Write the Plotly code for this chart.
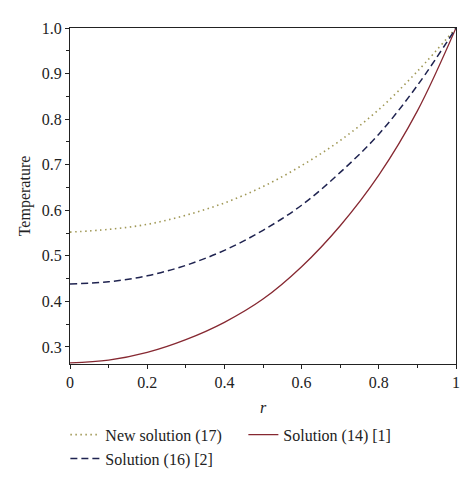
import plotly.graph_objects as go

# radius values and temperature profiles
r_vals = [0.0, 0.1, 0.2, 0.3, 0.4, 0.5, 0.6, 0.7, 0.8, 0.9, 1.0]
new_sol_17 = [0.552, 0.558, 0.569, 0.589, 0.616, 0.652, 0.698, 0.753, 0.821, 0.905, 1.0]
sol_16 = [0.438, 0.443, 0.456, 0.479, 0.512, 0.556, 0.611, 0.683, 0.767, 0.874, 1.0]
sol_14 = [0.265, 0.271, 0.288, 0.316, 0.354, 0.405, 0.476, 0.566, 0.677, 0.818, 1.0]

y_ticks = [0.3, 0.4, 0.5, 0.6, 0.7, 0.8, 0.9, 1.0]
x_ticks = [0, 0.2, 0.4, 0.6, 0.8, 1]

font_family = "Liberation Serif"

fig = go.Figure()
fig.add_trace(go.Scatter(x=r_vals, y=new_sol_17, mode="lines", name="New solution (17)",
                         line=dict(color="#a09856", width=1.6, dash="1.5px,3.5px", shape="spline")))
fig.add_trace(go.Scatter(x=r_vals, y=sol_14, mode="lines", name="Solution (14) [1]",
                         line=dict(color="#862831", width=1.3, shape="spline")))
fig.add_trace(go.Scatter(x=r_vals, y=sol_16, mode="lines", name="Solution (16) [2]",
                         line=dict(color="#1f2350", width=1.5, dash="7px,4px", shape="spline")))

axis_common = dict(
    showline=True, linecolor="#222", linewidth=1.2, mirror=True,
    showgrid=False, zeroline=False,
    ticks="outside", ticklen=4, tickcolor="#222", tickwidth=1,
    tickfont=dict(family=font_family, size=16, color="#222"),
)

fig.update_xaxes(range=[0, 1], tickvals=x_ticks, ticktext=["0", "0.2", "0.4", "0.6", "0.8", "1"],
                 minor=dict(dtick=0.1, ticks="outside", ticklen=3, tickcolor="#222"),
                 title=dict(text="<i>r</i>", font=dict(family=font_family, size=16, color="#222"), standoff=11),
                 **axis_common)
fig.update_yaxes(range=[0.2625, 1.0], tickvals=y_ticks, tickformat=".1f",
                 minor=dict(dtick=0.05, ticks="outside", ticklen=3, tickcolor="#222"),
                 title=dict(text="Temperature", font=dict(family=font_family, size=16, color="#222"), standoff=7),
                 **axis_common)

fig.update_layout(
    width=474, height=481,
    margin=dict(l=62, r=26, t=15, b=125),
    plot_bgcolor="white", paper_bgcolor="white",
    font=dict(family=font_family, size=16, color="#222"),
    legend=dict(orientation="h", x=-0.012, y=-0.16, xanchor="left", yanchor="top",
                entrywidth=133, traceorder="normal",
                font=dict(family=font_family, size=16, color="#222"),
                itemwidth=30, tracegroupgap=0),
)

fig.write_html("out.html")
